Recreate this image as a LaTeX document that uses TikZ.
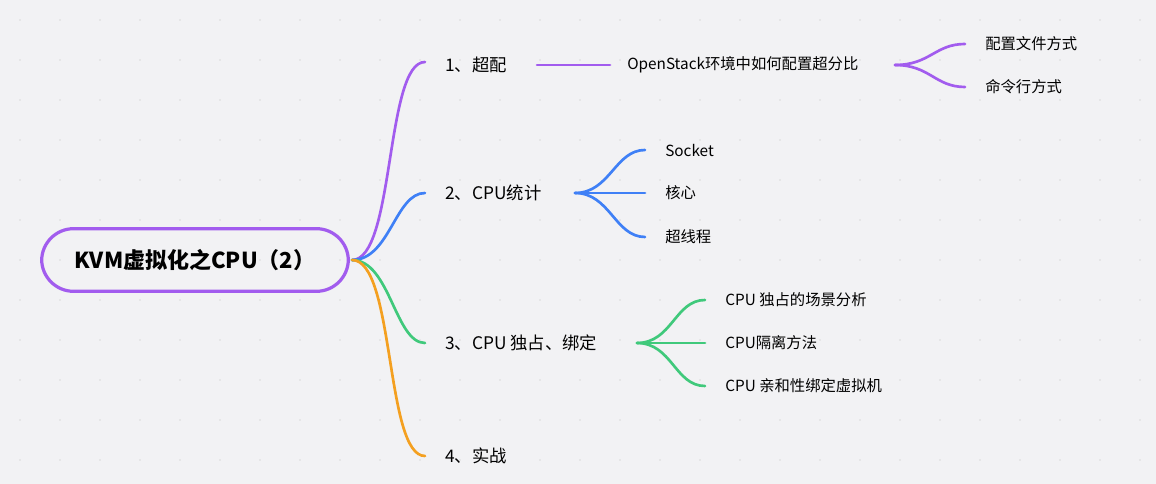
\documentclass[tikz,border=0pt]{standalone}
\usepackage{fontspec}
\setmainfont{Noto Sans CJK SC}
\usepackage{xcolor}
\usetikzlibrary{positioning,calc}
\definecolor{bg}{HTML}{F2F2F4}
\definecolor{cpurple}{HTML}{A25CEE}
\definecolor{cblue}{HTML}{3F80F6}
\definecolor{cgreen}{HTML}{40C97B}
\definecolor{corange}{HTML}{F4A020}
\tikzset{
  branch/.style={font=\fontsize{13}{15}\selectfont,anchor=west,inner sep=0pt},
  leaf/.style={font=\fontsize{11.5}{13}\selectfont,anchor=west,inner sep=0pt},
  link/.style={line width=2pt,line cap=round},
}
\begin{document}
\begin{tikzpicture}[x=0.75pt,y=-0.75pt]
\fill[bg] (0,0) rectangle (1156,484);
\useasboundingbox (0,0) rectangle (1156,484);
\foreach \i in {0,...,28} \foreach \j in {0,...,11}
  \fill[black!25] (20+40*\i,20+40*\j) circle (0.6);

\node[draw=cpurple,line width=2.4pt,rounded corners=24pt,minimum width=230pt,minimum height=47pt,
  font=\fontsize{16.5}{18}\selectfont\bfseries] (root) at (195,260) {KVM虚拟化之CPU（2）};
\coordinate (R) at (352,260);

\node[branch] (b1) at (445,65) {1、超配};
\node[branch] (b2) at (445,193) {2、CPU统计};
\node[branch] (b3) at (445,343) {3、CPU 独占、绑定};
\node[branch] (b4) at (445,456) {4、实战};

\draw[link,cpurple] (R) .. controls (395,260) and (385,62) .. (425,62);
\draw[link,cblue] (R) .. controls (390,260) and (395,193) .. (425,193);
\draw[link,cgreen] (R) .. controls (390,260) and (395,343) .. (425,343);
\draw[link,corange] (R) .. controls (395,260) and (385,456) .. (425,456);

% 1
\node[leaf] (os) at (627,65) {OpenStack环境中如何配置超分比};
\draw[link,cpurple] (537,65) -- (610,65);
\coordinate (P1) at (895,65);
\node[leaf] (f1) at (985,44) {配置文件方式};
\node[leaf] (f2) at (985,87) {命令行方式};
\foreach \y in {44,87}
  \draw[link,cpurple] (P1) .. controls (930,65) and (935,\y) .. (965,\y);

% 2
\coordinate (P2) at (575,193);
\node[leaf] (s1) at (665,150) {Socket};
\node[leaf] (s2) at (665,193) {核心};
\node[leaf] (s3) at (665,237) {超线程};
\foreach \y in {150,193,237}
  \draw[link,cblue] (P2) .. controls (610,193) and (615,\y) .. (645,\y);

% 3
\coordinate (P3) at (637,343);
\node[leaf] (c1) at (725,300) {CPU 独占的场景分析};
\node[leaf] (c2) at (725,343) {CPU隔离方法};
\node[leaf] (c3) at (725,386) {CPU 亲和性绑定虚拟机};
\foreach \y in {300,343,386}
  \draw[link,cgreen] (P3) .. controls (672,343) and (675,\y) .. (705,\y);
\end{tikzpicture}
\end{document}
